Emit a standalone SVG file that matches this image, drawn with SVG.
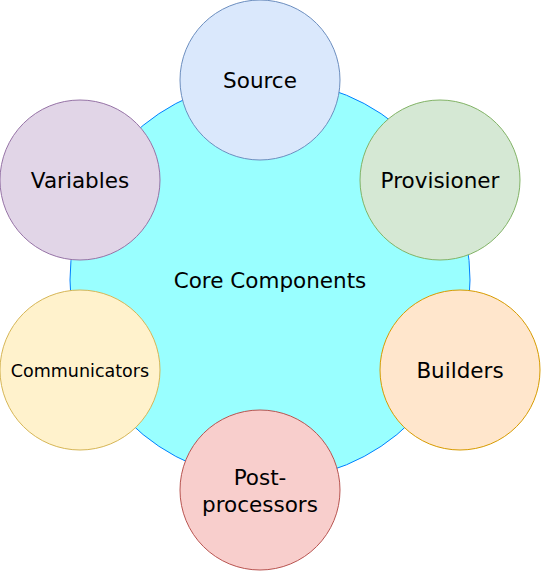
<svg xmlns="http://www.w3.org/2000/svg" width="542" height="571" viewBox="0 0 542 571">
<style>
text{font-family:"DejaVu Sans",Verdana,sans-serif;fill:#000;text-anchor:middle;dominant-baseline:central}
.l{font-size:21.5px}
.s{font-size:17.5px}
circle{stroke-width:1}
</style>
<rect width="542" height="571" fill="#fff"/>
<g id="core">
<circle cx="270" cy="280" r="200" fill="#99ffff" stroke="#007fff"/>
<text class="l" x="270" y="280">Core Components</text>
</g>
<g id="source">
<circle cx="260" cy="80" r="80" fill="#dae8fc" stroke="#6c8ebf"/>
<text class="l" x="260" y="80">Source</text>
</g>
<g id="provisioner">
<circle cx="440" cy="180" r="80" fill="#d5e8d4" stroke="#82b366"/>
<text class="l" x="440" y="180">Provisioner</text>
</g>
<g id="builders">
<circle cx="460" cy="370" r="80" fill="#ffe6cc" stroke="#d79b00"/>
<text class="l" x="460" y="370">Builders</text>
</g>
<g id="postprocessors">
<circle cx="260" cy="490" r="80" fill="#f8cecc" stroke="#b85450"/>
<text class="l" x="260" y="477">Post-</text>
<text class="l" x="260" y="504">processors</text>
</g>
<g id="communicators">
<circle cx="80" cy="370" r="80" fill="#fff2cc" stroke="#d6b656"/>
<text class="s" x="80" y="371">Communicators</text>
</g>
<g id="variables">
<circle cx="80" cy="180" r="80" fill="#e1d5e7" stroke="#9673a6"/>
<text class="l" x="80" y="180">Variables</text>
</g>
<g id="connectors"></g>
</svg>
